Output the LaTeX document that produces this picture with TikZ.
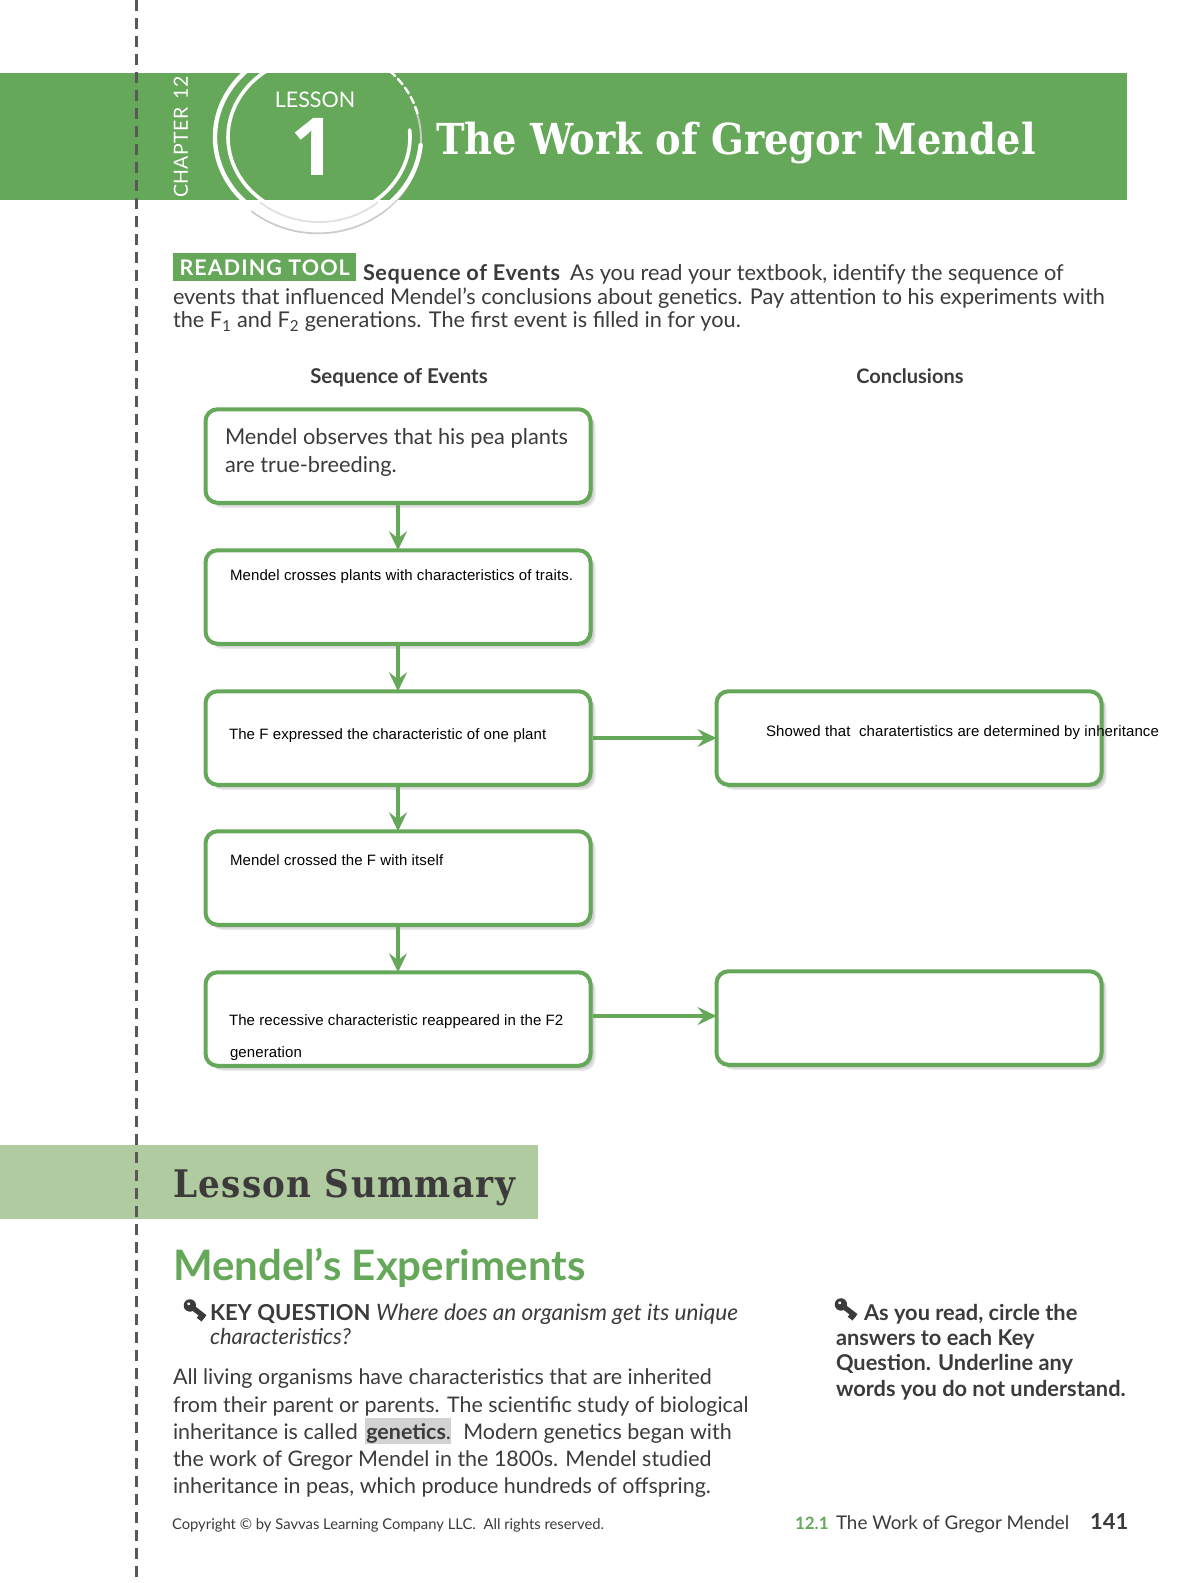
\documentclass[tikz,border=0pt]{standalone}
\usepackage{fontspec}
\setmainfont{Lato}
\newfontfamily\slabf{DejaVu Serif Condensed}[BoldFont={* Bold}]
\newfontfamily\slabspaced{DejaVu Serif Condensed}[BoldFont={* Bold},LetterSpace=3.6]
\newfontfamily\onef{Open Sans}
\newfontfamily\arialspaced{Liberation Sans}[LetterSpace=0.8]
\newfontfamily\latospaced{Lato}[LetterSpace=5]
\newfontfamily\latochap{Lato}[LetterSpace=2.5]
\newfontfamily\latohead{Lato}[LetterSpace=2.6]
\usetikzlibrary{arrows.meta,shadows}
\definecolor{leaf}{HTML}{66A85A}
\definecolor{pale}{HTML}{B0CB9F}
\definecolor{ink}{HTML}{3C3A3B}
\definecolor{hl}{HTML}{D2D2D2}
\tikzset{
  x=1pt,y=1pt,
  softshadow/.style={drop shadow={shadow xshift=#1,shadow yshift=-#1,opacity=.09,fill=black}},
  txt/.style={anchor=base west,inner sep=0pt,outer sep=0pt,text=ink},
  para/.style={anchor=north west,inner sep=0pt,outer sep=0pt,text=ink,align=left},
  flowbox/.style={softshadow=5pt,softshadow=3.5pt,softshadow=2pt,draw=leaf,line width=4pt,rounded corners=12pt,fill=white,minimum width=385pt,minimum height=93.5pt,anchor=center,inner sep=0pt},
  flowarrow/.style={draw=leaf,line width=3.6pt,shorten >=-2pt,-{Stealth[length=19pt,width=18pt,inset=7pt]}},
  ring/.style={draw=white,line width=4.4pt,line cap=round},
  ringshade/.style={draw=black!20,line width=1.8pt,line cap=round},
  small/.style={anchor=base west,inner sep=0pt,outer sep=0pt,text=black,font=\arialspaced\fontsize{15}{18}\selectfont},
  keyicon/.pic={
    \fill[ink,rotate=-38] (-9,0) circle (6.2);
    \fill[ink,rotate=-38] (-8,-2.6) rectangle (10,2.6);
    \fill[ink,rotate=-38] (4,0) rectangle (10,-5.5);
    \fill[white,rotate=-38] (-11,0.5) circle (1.7);
  }
}
\begin{document}
\begin{tikzpicture}
\useasboundingbox (0,0) rectangle (1200,-1583);
% title band
\fill[leaf] (0,-73) rectangle (1127,-200);
\fill[pale] (0,-1145) rectangle (538,-1219);
% dashed fold line
\draw[ink!85,line width=2.4pt,dash pattern=on 11pt off 7pt] (136.5,0) -- (136.5,-1583);
% ring
\draw[ringshade] (318,-139) ++(20:103 and 93) arc[start angle=20,end angle=-130,x radius=103,y radius=94];
\draw[ringshade,draw=black!12] (319,-139) ++(-50:91 and 83) arc[start angle=-50,end angle=-130,x radius=91,y radius=83];
\draw[ringshade,draw=black!18] (318,-135) ++(60:103 and 91) arc[start angle=60,end angle=125,x radius=103,y radius=91];
\draw[ring] (318,-137) ++(-5:103 and 92) arc[start angle=-5,end angle=-300,x radius=103,y radius=92];
\draw[ring,line width=3.6pt] (319,-137) ++(5:91 and 81) arc[start angle=5,end angle=-240,x radius=91,y radius=81];
\draw[ring,line width=2.4pt,dash pattern=on 7pt off 4pt] (318,-137) ++(52:103 and 92) arc[start angle=52,end angle=14,x radius=103,y radius=92];
\node[anchor=center,rotate=90,inner sep=0pt,text=white,font=\latochap\fontsize{19.5}{22}\selectfont] (chap) at (181,-137) {CHAPTER\hspace{8pt}12};
\node[anchor=center,inner sep=0pt,text=white,font=\fontsize{21.5}{24}\selectfont] (less) at (315,-100) {LESSON};
\node[anchor=center,inner sep=0pt,text=white,font=\onef\bfseries\fontsize{80}{90}\selectfont] (one) at (313,-147) {1};
\node[txt,text=white,font=\slabf\bfseries\fontsize{42.7}{50}\selectfont] (title) at (436,-154) {The Work of Gregor Mendel};
% intro
\node[anchor=south west,fill=leaf,minimum width=183pt,minimum height=27.5pt,inner sep=0pt] (rtbox) at (173,-281) {};
\node[anchor=center,inner sep=0pt,text=white,font=\latospaced\bfseries\fontsize{21.5}{24}\selectfont] (rt) at ([yshift=-1pt]rtbox.center) {READING TOOL};
\node[para,font=\fontsize{21.7}{23.7}\selectfont] (intro) at (173,-264.5) {\hspace{190pt}{\latohead\bfseries Sequence of Events}\hspace{10pt}As you read your textbook, identify the sequence of\\
events that influenced Mendel’s conclusions about genetics. Pay attention to his experiments with\\
the F\textsubscript{1} and F\textsubscript{2} generations. The first event is filled in for you.};
\node[anchor=center,inner sep=0pt,text=ink,font=\bfseries\fontsize{20.4}{22}\selectfont] (h1) at (399,-378) {Sequence of Events};
\node[anchor=center,inner sep=0pt,text=ink,font=\bfseries\fontsize{20}{22}\selectfont] (h2) at (910,-376) {Conclusions};
% flow boxes
\node[flowbox] (b1) at (398,-456) {};
\node[flowbox] (b2) at (398,-597) {};
\node[flowbox] (b3) at (398,-738) {};
\node[flowbox] (b4) at (398,-878) {};
\node[flowbox] (b5) at (398,-1019) {};
\node[flowbox] (r1) at (909,-738) {};
\node[flowbox] (r2) at (909,-1018) {};
\draw[flowarrow] (b1.south) -- (b2.north);
\draw[flowarrow] (b2.south) -- (b3.north);
\draw[flowarrow] (b3.south) -- (b4.north);
\draw[flowarrow] (b4.south) -- (b5.north);
\draw[flowarrow] (b3.east) -- (r1.west);
\draw[flowarrow] ([yshift=3pt]b5.east) -- ([yshift=2pt]r2.west);
% box texts
\node[para,font=\fontsize{21.8}{28}\selectfont] (t1) at (225,-428) {Mendel observes that his pea plants\\are true-breeding.};
\node[small] (t2) at (230,-580) {Mendel crosses plants with characteristics of traits.};
\node[small] (t3) at (229,-739) {The F expressed the characteristic of one plant};
\node[small] (t4) at (766,-736) {Showed that\ \ charatertistics are determined by inheritance};
\node[small] (t5) at (230,-865) {Mendel crossed the F with itself};
\node[small] (t6) at (229,-1025) {The recessive characteristic reappeared in the F2};
\node[small] (t7) at (230,-1057) {generation};
% lesson summary
\node[txt,font=\slabspaced\bfseries\fontsize{38}{44}\selectfont] (ls) at (173,-1197) {Lesson Summary};
\node[txt,text=leaf,font=\bfseries\fontsize{42}{48}\selectfont] (me) at (173,-1280) {Mendel’s Experiments};
\pic at (197,-1311) {keyicon};
\node[para,font=\fontsize{22}{23.5}\selectfont] (kq) at (210,-1304) {\textbf{KEY QUESTION} {\itshape\fontsize{22.6}{23.5}\selectfont Where does an organism get its unique}\\\textit{characteristics?}};
\fill[hl] (365,-1418) rectangle (451,-1444);
\node[para,font=\fontsize{21.45}{27.2}\selectfont] (body) at (173,-1369) {All living organisms have characteristics that are inherited\\
from their parent or parents. The scientific study of biological\\
inheritance is called\hspace{3pt} \textbf{genetics}.\hspace{5pt} Modern genetics began with\\
the work of Gregor Mendel in the 1800s. Mendel studied\\
inheritance in peas, which produce hundreds of offspring.};
\pic at (848,-1310) {keyicon};
\node[para,font=\bfseries\fontsize{21.8}{25.3}\selectfont] (side) at (836,-1304) {\hspace{28pt}As you read, circle the\\answers to each Key\\Question. Underline any\\words you do not understand.};
% footer
\node[txt,font=\fontsize{14.8}{18}\selectfont] (copy) at (172,-1529) {Copyright © by Savvas Learning Company LLC.\ \ All rights reserved.};
\node[txt,text=leaf,font=\bfseries\fontsize{17}{20}\selectfont] (fn) at (795,-1529) {12.1};
\node[txt,font=\fontsize{18.85}{22}\selectfont] (ft) at (836,-1529) {The Work of Gregor Mendel};
\node[txt,font=\bfseries\fontsize{22}{24}\selectfont] (pg) at (1090,-1529) {141};
\end{tikzpicture}
\end{document}
